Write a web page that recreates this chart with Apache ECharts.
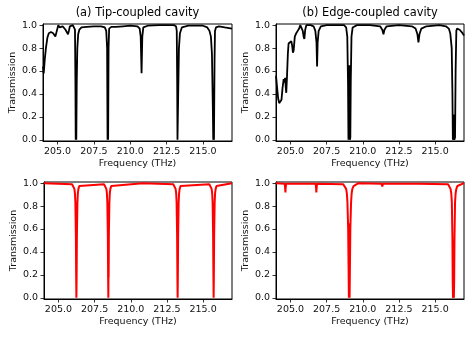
<!DOCTYPE html>
<html><head><meta charset="utf-8">
<script src="https://cdn.jsdelivr.net/npm/echarts@6/dist/echarts.min.js"></script>
<style>html,body{margin:0;padding:0;background:#fff}#c{width:474px;height:338px}</style>
</head><body><div id="c"></div>
<script>
const titles = ['(a) Tip-coupled cavity', '(b) Edge-coupled cavity'];
const xName = 'Frequency (THz)';
const yName = 'Transmission';
const xTicks = [205, 207.5, 210, 212.5, 215];
const yTicks = [0, 0.2, 0.4, 0.6, 0.8, 1.0];

// (a) tip-coupled, measured-like (black)
const freqA = [204.00,204.05,204.12,204.20,204.30,204.40,204.55,204.70,204.85,204.95,205.05,205.15,205.25,205.35,205.45,205.55,205.65,205.72,205.78,205.85,205.95,206.05,206.15,206.20,206.23,206.25,206.27,206.29,206.32,206.36,206.42,206.50,206.65,207.00,207.50,208.00,208.25,208.35,208.41,208.44,208.46,208.48,208.51,208.55,208.70,209.00,209.50,210.00,210.50,210.65,210.72,210.78,210.83,210.90,211.20,212.00,213.00,213.15,213.20,213.23,213.25,213.28,213.30,213.35,213.42,213.55,214.00,215.00,215.30,215.45,215.55,215.62,215.68,215.71,215.74,215.76,215.80,215.83,215.90,216.10,216.50,217.00];
const transA = [0.64,0.58,0.70,0.80,0.89,0.93,0.94,0.93,0.90,0.95,1.00,0.98,0.97,0.99,0.98,0.96,0.97,0.92,0.95,0.99,1.00,1.00,0.99,0.96,0.50,0.00,0.38,0.00,0.50,0.80,0.92,0.96,0.98,0.985,0.99,0.99,0.98,0.95,0.80,0.00,0.25,0.00,0.80,0.97,0.985,0.985,0.99,0.995,0.99,0.97,0.90,0.58,0.90,0.98,0.995,1.00,1.00,0.99,0.95,0.50,0.00,0.00,0.40,0.80,0.93,0.98,0.995,0.995,0.98,0.95,0.90,0.75,0.30,0.00,0.12,0.00,0.70,0.95,0.98,0.99,0.98,0.97];

// (b) edge-coupled, measured-like (black)
const freqB = [204.00,204.08,204.15,204.22,204.30,204.38,204.45,204.53,204.58,204.63,204.68,204.71,204.76,204.82,204.87,204.93,204.99,205.06,205.12,205.17,205.22,205.30,205.40,205.50,205.60,205.68,205.78,205.85,205.91,205.96,206.02,206.10,206.40,206.60,206.72,206.80,206.84,206.88,206.95,207.10,207.50,208.00,208.70,208.85,208.93,208.98,209.01,209.05,209.08,209.11,209.14,209.17,209.22,209.30,209.60,210.50,211.20,211.35,211.43,211.50,211.65,212.50,213.40,213.65,213.78,213.85,213.92,214.05,214.40,215.30,215.75,215.95,216.05,216.15,216.20,216.23,216.28,216.33,216.38,216.42,216.47,216.52,216.70,216.90,217.00];
const transB = [0.56,0.45,0.36,0.32,0.31,0.35,0.45,0.53,0.50,0.54,0.45,0.41,0.55,0.75,0.84,0.83,0.85,0.86,0.82,0.76,0.78,0.90,0.93,0.95,0.97,1.00,0.99,0.95,0.90,0.88,0.96,1.00,1.00,0.99,0.95,0.85,0.64,0.85,0.95,0.99,1.00,1.00,1.00,0.98,0.90,0.50,0.00,0.00,0.65,0.00,0.02,0.50,0.90,0.98,1.00,1.00,0.99,0.96,0.92,0.96,0.99,1.00,0.99,0.97,0.92,0.85,0.92,0.97,0.99,1.00,0.99,0.97,0.93,0.80,0.40,0.00,0.22,0.00,0.02,0.60,0.95,0.97,0.96,0.93,0.91];

// (c) tip-coupled, simulated (red)
const freqC = [204.00,205.94,206.04,206.10,206.14,206.17,206.205,206.225,206.24,206.255,206.275,206.31,206.34,206.38,206.44,206.54,208.15,208.25,208.31,208.35,208.38,208.415,208.435,208.45,208.46,208.47,208.485,208.52,208.55,208.59,208.65,208.75,210.82,210.87,210.92,212.94,213.04,213.10,213.14,213.17,213.205,213.225,213.24,213.255,213.275,213.31,213.34,213.38,213.44,213.54,215.43,215.53,215.59,215.63,215.66,215.695,215.715,215.73,215.745,215.765,215.80,215.83,215.87,215.93,216.03,217.00];
const transC = [1.00,0.99,0.975,0.95,0.91,0.83,0.54,0.18,0.00,0.18,0.54,0.83,0.91,0.95,0.975,0.99,0.99,0.975,0.95,0.91,0.83,0.54,0.18,0.00,0.25,0.18,0.54,0.83,0.91,0.95,0.975,0.99,1.00,0.99,1.00,0.99,0.975,0.95,0.91,0.83,0.54,0.18,0.00,0.18,0.54,0.83,0.91,0.95,0.975,0.99,0.99,0.975,0.95,0.91,0.83,0.54,0.18,0.00,0.18,0.54,0.83,0.91,0.95,0.975,0.99,1.00];

// (d) edge-coupled, simulated (red)
const freqD = [204.00,204.60,204.63,204.65,204.67,204.70,206.74,206.77,206.79,206.81,206.84,208.65,208.77,208.85,208.90,208.94,208.99,209.02,209.04,209.065,209.09,209.11,209.14,209.19,209.23,209.28,209.36,209.48,209.70,211.30,211.35,211.40,213.70,213.77,213.84,215.90,216.00,216.07,216.12,216.16,216.20,216.22,216.24,216.27,216.30,216.32,216.34,216.38,216.42,216.47,216.54,216.64,217.00];
const transD = [1.00,0.995,0.96,0.92,0.96,0.995,0.995,0.96,0.92,0.96,0.995,0.99,0.975,0.95,0.91,0.83,0.60,0.25,0.00,0.65,0.00,0.25,0.60,0.83,0.91,0.95,0.975,0.99,1.00,0.995,0.97,0.995,0.995,0.98,0.995,0.99,0.975,0.95,0.91,0.83,0.50,0.15,0.00,0.13,0.00,0.15,0.50,0.83,0.91,0.95,0.975,0.99,1.00];

const panels = [
  {f: freqA, t: transA, color: '#000000', w: 1.8},
  {f: freqB, t: transB, color: '#000000', w: 1.8},
  {f: freqC, t: transC, color: '#ff0000', w: 2},
  {f: freqD, t: transD, color: '#ff0000', w: 2}
];
const gridBoxes = [
  {left: 43, top: 24, width: 189, height: 117},
  {left: 276, top: 24, width: 188, height: 117},
  {left: 44, top: 182, width: 188, height: 117},
  {left: 276, top: 182, width: 188, height: 117}
];
const FONT = 'DejaVu Sans';
const txt = '#111';

const chart = echarts.init(document.getElementById('c'), null, {renderer: 'canvas'});
const option = {
  animation: false,
  backgroundColor: '#ffffff',
  title: titles.map((t, i) => ({
    text: t,
    left: gridBoxes[i].left + gridBoxes[i].width / 2,
    top: 8,
    textAlign: 'center',
    padding: 0,
    textStyle: {fontFamily: FONT, fontSize: 11.4, fontWeight: 'normal', color: '#000'}
  })),
  grid: gridBoxes.map(g => Object.assign({show: true, borderColor: '#000', borderWidth: 1, backgroundColor: 'transparent', containLabel: false}, g)),
  xAxis: gridBoxes.map((g, i) => ({
    type: 'value', gridIndex: i, min: 204, max: 217,
    name: xName, nameLocation: 'middle', nameGap: 18,
    nameTextStyle: {fontFamily: FONT, fontSize: 9.5, color: txt},
    axisLine: {show: true, onZero: false, lineStyle: {color: '#000', width: 1}},
    axisTick: {show: true, length: 3.5, customValues: xTicks, lineStyle: {color: '#000', width: 0.8}},
    axisLabel: {customValues: xTicks, margin: 6, fontFamily: FONT, fontSize: 9.5, color: txt, formatter: v => Number(v).toFixed(1)},
    splitLine: {show: false}
  })),
  yAxis: gridBoxes.map((g, i) => ({
    type: 'value', gridIndex: i, min: -0.01, max: 1.01,
    name: yName, nameLocation: 'middle', nameGap: 24, nameRotate: 90,
    nameTextStyle: {fontFamily: FONT, fontSize: 9.5, color: txt},
    axisLine: {show: true, onZero: false, lineStyle: {color: '#000', width: 1}},
    axisTick: {show: true, length: 3.5, customValues: yTicks, lineStyle: {color: '#000', width: 0.8}},
    axisLabel: {customValues: yTicks, margin: 6, fontFamily: FONT, fontSize: 9.5, color: txt, formatter: v => Number(v).toFixed(1)},
    splitLine: {show: false}
  })),
  series: panels.map((p, i) => ({
    type: 'line', xAxisIndex: i, yAxisIndex: i,
    data: p.f.map((x, k) => [x, p.t[k]]),
    showSymbol: false, symbol: 'none', smooth: false,
    lineStyle: {color: p.color, width: p.w},
    clip: false
  }))
};
chart.setOption(option);
</script>
</body></html>
